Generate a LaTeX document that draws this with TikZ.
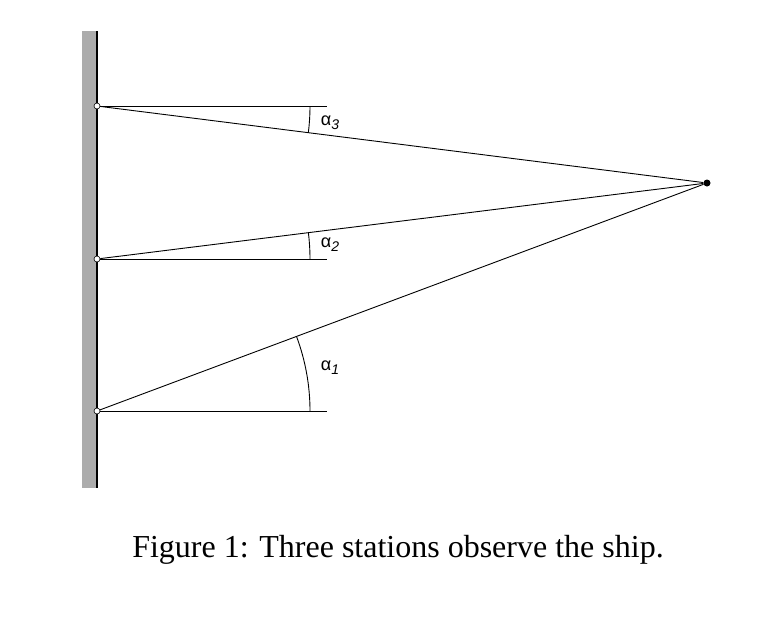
\documentclass[tikz,border=0pt]{standalone}
\usepackage{fontspec}
\setmainfont{Liberation Serif}
\newfontfamily\lblfont{Liberation Sans}
\newcommand{\subfnt}{\itshape\fontsize{14}{14}\selectfont}
\begin{document}
\begin{tikzpicture}[x=1pt,y=-1pt,
  station/.style={circle,draw=black,fill=white,inner sep=0pt,minimum size=6pt,line width=0.6pt},
  shipdot/.style={circle,fill=black,inner sep=0pt,minimum size=7pt},
  ln/.style={line width=0.9pt},
  lbl/.style={font=\lblfont\fontsize{18}{18}\selectfont}]
\useasboundingbox (0,0) rectangle (777,625);
\fill[gray!65] (82,31) rectangle (96,488);
\draw[line width=2.4pt] (97,31) -- (97,488);
\coordinate (h1) at (327,411);
\coordinate (h2) at (327,259);
\coordinate (h3) at (327,106);
\node[shipdot] (s) at (707,183) {};
\node[station] (a) at (97,411) {};
\node[station] (b) at (97,259) {};
\node[station] (c) at (97,106) {};
\draw[ln] (a) -- (h1); \draw[ln] (b) -- (h2); \draw[ln] (c) -- (h3);
\draw[ln] (a) -- (s); \draw[ln] (b) -- (s); \draw[ln] (c) -- (s);
\draw[ln] (97,411) ++(0:213) arc[start angle=0,end angle=-20.5,radius=213];
\draw[ln] (97,259) ++(0:213) arc[start angle=0,end angle=-7.1,radius=213];
\draw[ln] (97,106) ++(0:213) arc[start angle=0,end angle=7.2,radius=213];
\node[lbl] (l1) at (330,368) {α\raisebox{-0.45ex}{\subfnt 1}};
\node[lbl] (l2) at (330,245) {α\raisebox{-0.45ex}{\subfnt 2}};
\node[lbl] (l3) at (330,123) {α\raisebox{-0.45ex}{\subfnt 3}};
\node[font=\fontsize{32}{32}\selectfont] (cap) at (398,550) {Figure 1: Three stations observe the ship.};
\end{tikzpicture}
\end{document}
